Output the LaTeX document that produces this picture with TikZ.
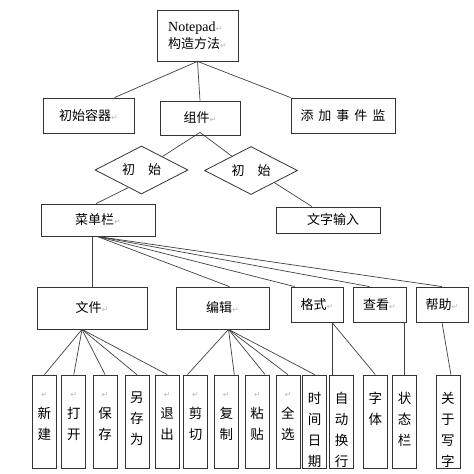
\documentclass[tikz,border=0pt]{standalone}
\usepackage{fontspec}
\setmainfont{Liberation Serif}
\newfontfamily\cjk{Noto Sans CJK SC}
\newfontfamily\symfam{DejaVu Sans}
\usepackage{xcolor}
\usetikzlibrary{shapes.geometric,positioning,calc}
% return mark and vertical column text
\newcommand{\rmk}{{\symfam\color{gray!55}\fontsize{8}{8}\selectfont ↵}}
\newcommand{\vcol}[1]{\parbox[c][93pt][t]{24pt}{\centering\vspace{17pt}#1}}
\tikzset{
  box/.style={draw=black!80, line width=0.8pt, inner sep=0pt, font=\cjk\fontsize{13}{15}\selectfont},
  leaf/.style={draw=black!80, line width=0.8pt, inner sep=0pt, font=\cjk\fontsize{13.5}{21}\selectfont},
  dia/.style={diamond, aspect=2, draw=black!80, line width=0.8pt, inner sep=0pt,
    minimum width=93pt, minimum height=48pt, font=\cjk\fontsize{13}{15}\selectfont},
  link/.style={draw=black!75, line width=0.7pt}
}
\begin{document}
\begin{tikzpicture}[x=1pt,y=-1pt]
  \useasboundingbox (0,0) rectangle (474,474);
  % upper part
  \node [box, minimum width=81pt, minimum height=51pt, align=left] (np) at (197.5,35.5)
    {{\fontsize{14}{15}\selectfont\rmfamily Notepad}\rmk\\[2pt]构造方法\rmk};
  \node [box, minimum width=91pt, minimum height=35pt] (cs) at (88.5,115.5) {初始容器\rmk};
  \node [box, minimum width=80pt, minimum height=34pt] (zj) at (200,118) {组件\rmk};
  \node [box, minimum width=104pt, minimum height=35pt] (tj) at (343,115.5)
    {添\hspace{5pt}加\hspace{5pt}事\hspace{5pt}件\hspace{5pt}监};
  \node [dia] (ldia) at (141.5,170) {初\hspace{13pt}始};
  \node [dia] (rdia) at (251,170.5) {初\hspace{13pt}始};
  \node [box, minimum width=114pt, minimum height=32pt] (cdl) at (98,220) {菜单栏\rmk};
  \node [box, minimum width=104pt, minimum height=26pt] (wz) at (328,220) {\hspace{10pt}文字输入};
  % menus
  \node [box, minimum width=110pt, minimum height=42pt] (wj) at (92,308) {文件\rmk};
  \node [box, minimum width=93pt, minimum height=42pt] (bj) at (222.5,308) {编辑\rmk};
  \node [box, minimum width=52pt, minimum height=35pt] (gs) at (317,304.5) {格式\rmk};
  \node [box, minimum width=53pt, minimum height=35pt] (ck) at (379.5,304.5) {查看\rmk};
  \node [box, minimum width=52pt, minimum height=35pt] (bz) at (442,304.5) {帮助\rmk};
  % items
  \node [leaf] (xj) at (44.5,421.5) {\vcol{\rmk\\新\\建}};
  \node [leaf, right=4.5pt of xj] (dk) {\vcol{\rmk\\打\\开}};
  \node [leaf, right=6.5pt of dk] (bc) {\vcol{\rmk\\保\\存}};
  \node [leaf, right=7pt of bc] (lcw) {\vcol{另\\存\\为}};
  \node [leaf, right=5.5pt of lcw] (tc) {\vcol{\rmk\\退\\出}};
  \node [leaf, right=3.5pt of tc] (jq) {\vcol{\rmk\\剪\\切}};
  \node [leaf, right=6pt of jq] (fz) {\vcol{\rmk\\复\\制}};
  \node [leaf, right=6pt of fz] (zt) {\vcol{\rmk\\粘\\贴}};
  \node [leaf, right=6pt of zt] (qx) {\vcol{\rmk\\全\\选}};
  \node [leaf, right=2pt of qx] (sjrq) {\vcol{时\\间\\日\\期}};
  \node [leaf, right=2pt of sjrq] (zdhh) {\vcol{自\\动\\换\\行}};
  \node [leaf, right=9pt of zdhh] (zti) {\vcol{字\\体}};
  \node [leaf, right=4.5pt of zti] (ztl) {\vcol{状\\态\\栏}};
  \node [leaf, right=18.5pt of ztl] (gyxz) {\vcol{关\\于\\写\\字}};
  % connectors
  \draw [link] (np.south) -- ([xshift=26pt]cs.north);
  \draw [link] (np.south) -- (zj.north);
  \draw [link] (np.south) -- (tj.north west);
  \draw [link] (ldia) -- ([yshift=3pt]zj.south) -- (rdia);
  \draw [link] ($(ldia.west)!0.72!(ldia.south)$) -- ([xshift=-2pt]cdl.north);
  \draw [link] ($(rdia.east)!0.5!(rdia.south)$) -- ([xshift=-16pt]wz.north);
  \coordinate (cdlfork) at ([xshift=-1pt]cdl.south);
  \draw [link] (wj.north |- cdl.south) -- (wj.north);
  \draw [link] (cdlfork) -- ([xshift=7pt]bj.north);
  \draw [link] (cdlfork) -- ([xshift=4pt]gs.north west);
  \draw [link] (cdlfork) -- ([xshift=-10pt]ck.north);
  \draw [link] (cdlfork) -- (bz.north);
  \coordinate (wjfork) at ([xshift=-10pt]wj.south);
  \foreach \t in {xj,dk,bc,lcw,tc}
    \draw [link] (wjfork) -- (\t.north);
  \coordinate (bjfork) at ([xshift=6pt]bj.south);
  \draw [link] (bjfork) -- ([xshift=-8pt]jq.north);
  \draw [link] (bjfork) -- ([xshift=8pt]fz.north);
  \draw [link] (bjfork) -- ([xshift=8pt]zt.north);
  \draw [link] (bjfork) -- (qx.north);
  \draw [link] (bjfork) -- (sjrq.north);
  \coordinate (gsfork) at ([xshift=15pt]gs.south);
  \draw [link] (gsfork) -- (gsfork |- zdhh.north);
  \draw [link] (gsfork) -- (zti.north);
  \draw [link] (ztl.north |- ck.south) -- (ztl.north);
  \draw [link] (bz.south) -- ([xshift=3pt]gyxz.north);
\end{tikzpicture}
\end{document}
